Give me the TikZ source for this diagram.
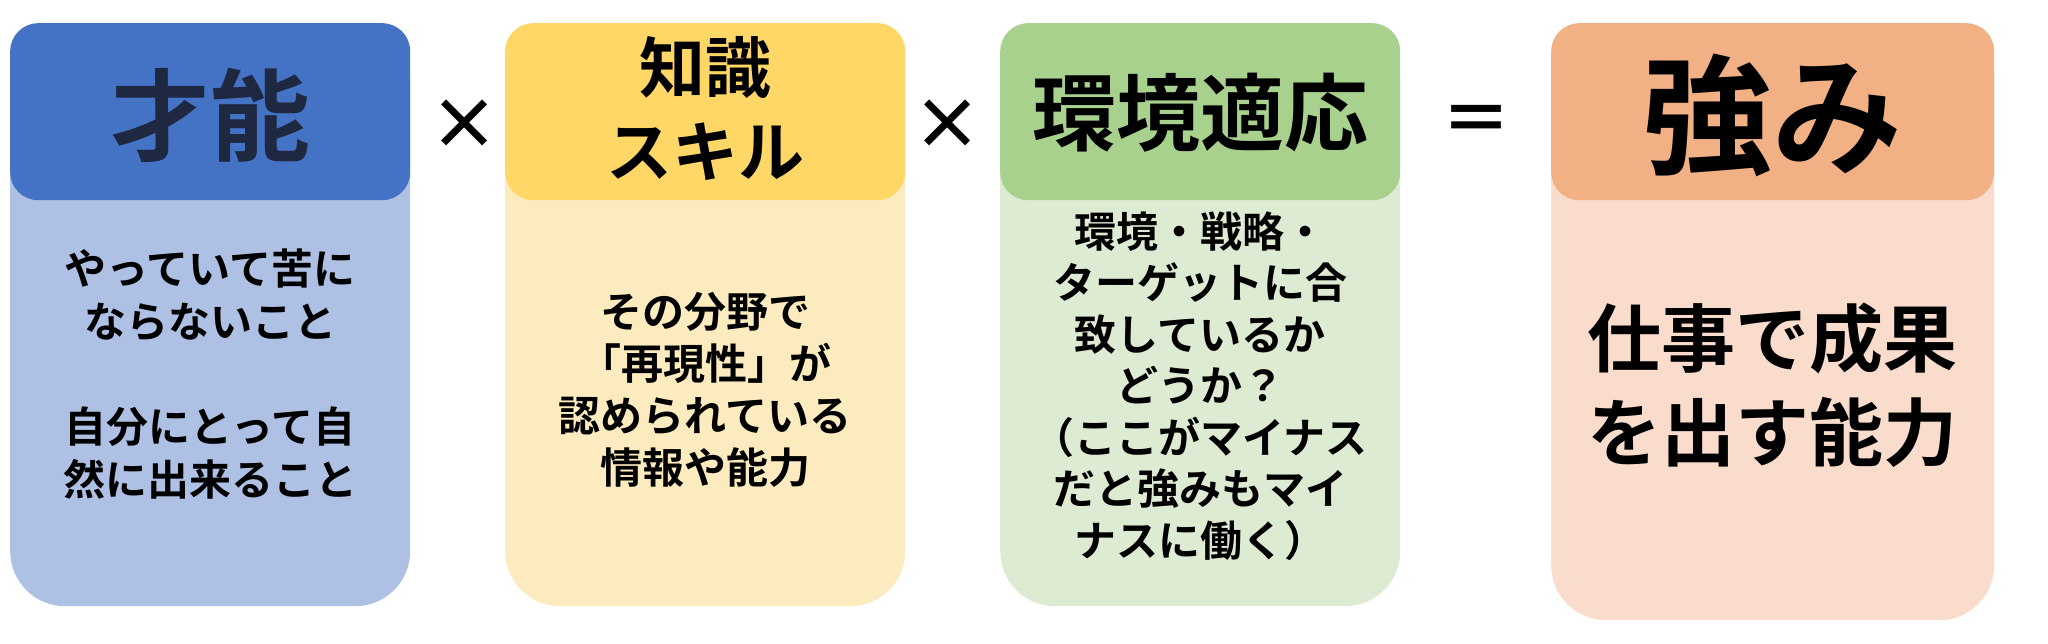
\documentclass[tikz,border=0pt]{standalone}
\usepackage{fontspec}
\setmainfont{Noto Sans CJK JP Bold}
\usetikzlibrary{positioning}
\definecolor{blueHead}{HTML}{4472C4}
\definecolor{blueBody}{HTML}{AEC1E4}
\definecolor{yellowHead}{HTML}{FFD766}
\definecolor{yellowBody}{HTML}{FDEBC0}
\definecolor{greenHead}{HTML}{A9D18E}
\definecolor{greenBody}{HTML}{DDEBD3}
\definecolor{orangeHead}{HTML}{F2B085}
\definecolor{orangeBody}{HTML}{F9DCCB}
\newcommand{\Size}[2]{\fontsize{#1}{#2}\selectfont}
\tikzset{
    body/.style={rectangle, rounded corners=55pt, minimum width=400pt, anchor=north west, inner sep=0pt},
    head/.style={rectangle, rounded corners=28pt, minimum width=400pt, minimum height=177pt, anchor=north west, inner sep=0pt},
    txt/.style={align=center, inner sep=0pt},
    op/.style={font=\Size{70}{70}, inner sep=0pt},
}
\begin{document}
\begin{tikzpicture}[x=1pt, y=-1pt]
    \useasboundingbox[fill=white] (0,0) rectangle (2048,644);

    \node[body, fill=blueBody, minimum height=583pt] (b1) at (10,23) {};
    \node[head, fill=blueHead] (h1) at (10,23) {};
    \node[body, fill=yellowBody, minimum height=583pt] (b2) at (505,23) {};
    \node[head, fill=yellowHead] (h2) at (505,23) {};
    \node[body, fill=greenBody, minimum height=583pt] (b3) at (1000,23) {};
    \node[head, fill=greenHead] (h3) at (1000,23) {};
    \node[body, fill=orangeBody, minimum height=597pt, minimum width=443pt] (b4) at (1551,23) {};
    \node[head, fill=orangeHead, minimum width=443pt] (h4) at (1551,23) {};

    % titles
    \node[txt, font=\Size{100}{100}, text={rgb,255:red,30;green,40;blue,65}] (t1) at (210,115) {才能};
    \node[txt, font=\Size{66}{84}] (t2) at (705,108) {知識\\スキル};
    \node[txt, font=\Size{84}{84}] (t3) at (1200,113) {環境適応};
    \node[txt, font=\Size{130}{130}] (t4) at (1772,115) {強み};

    % operators
    \node[op] (m1) at (464,125) {×};
    \node[op] (m2) at (947,125) {×};
    \node[op] (eq) at (1476,125) {＝};

    % texts
    \node[txt, font=\Size{42}{53}] (s1) at (210,374) {やっていて苦に\\ならないこと\\[52pt]自分にとって自\\然に出来ること};
    \node[txt, font=\Size{42}{52}] (s2) at (705,390) {その分野で\\「再現性」が\\認められている\\情報や能力};
    \node[txt, font=\Size{42}{51.5}] (s3) at (1200,386) {環境・戦略・\\ターゲットに合\\致しているか\\どうか？\\（ここがマイナス\\だと強みもマイ\\ナスに働く）};
    \node[txt, font=\Size{74}{94}] (s4) at (1772,385) {仕事で成果\\を出す能力};
\end{tikzpicture}
\end{document}
